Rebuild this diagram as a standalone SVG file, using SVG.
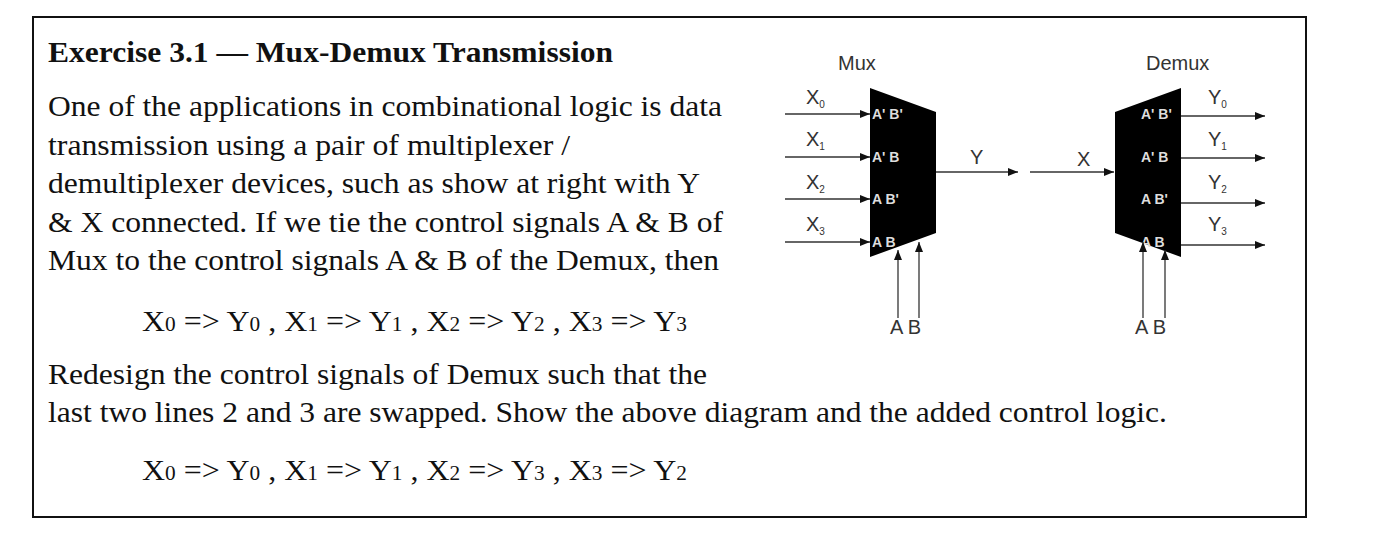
<svg xmlns="http://www.w3.org/2000/svg" width="1384" height="538" viewBox="0 0 1384 538">
<defs><marker id="ah" markerWidth="10" markerHeight="8" refX="10" refY="4" orient="auto" markerUnits="userSpaceOnUse"><path d="M0,0 L10,4 L0,8 Z" fill="#111"/></marker></defs>
<style>
.t{font-family:"Liberation Serif",serif;font-size:30px;fill:#111}
.s{font-family:"Liberation Sans",sans-serif;font-size:20px;fill:#333}
.w{font-family:"Liberation Sans",sans-serif;font-size:14px;font-weight:bold;fill:#ddd}
.sub{font-size:10px}
.l{stroke:#333;stroke-width:1.3;fill:none}
</style>
<rect x="0" y="0" width="1384" height="538" fill="#fff"/>
<rect x="33" y="17" width="1273" height="500" fill="none" stroke="#111" stroke-width="2"/>
<g id="text">
<text class="t" x="48" y="62" font-weight="bold" font-size="27" textLength="565" lengthAdjust="spacingAndGlyphs">Exercise 3.1 — Mux-Demux Transmission</text>
<text class="t" x="48" y="116" textLength="674" lengthAdjust="spacingAndGlyphs">One of the applications in combinational logic is data</text>
<text class="t" x="48" y="155" textLength="522" lengthAdjust="spacingAndGlyphs">transmission using a pair of multiplexer /</text>
<text class="t" x="48" y="193" textLength="652" lengthAdjust="spacingAndGlyphs">demultiplexer devices, such as show at right with Y</text>
<text class="t" x="48" y="232" textLength="675" lengthAdjust="spacingAndGlyphs">&amp; X connected. If we tie the control signals A &amp; B of</text>
<text class="t" x="48" y="270" textLength="671" lengthAdjust="spacingAndGlyphs">Mux to the control signals A &amp; B of the Demux, then</text>
<text class="t" x="142" y="331" textLength="545" lengthAdjust="spacingAndGlyphs">X<tspan font-size="20">0</tspan> =&gt; Y<tspan font-size="20">0</tspan> , X<tspan font-size="20">1</tspan> =&gt; Y<tspan font-size="20">1</tspan> , X<tspan font-size="20">2</tspan> =&gt; Y<tspan font-size="20">2</tspan> , X<tspan font-size="20">3</tspan> =&gt; Y<tspan font-size="20">3</tspan></text>
<text class="t" x="48" y="384" textLength="659" lengthAdjust="spacingAndGlyphs">Redesign the control signals of Demux such that the</text>
<text class="t" x="48" y="422" textLength="1119" lengthAdjust="spacingAndGlyphs">last two lines 2 and 3 are swapped. Show the above diagram and the added control logic.</text>
<text class="t" x="142" y="480" textLength="545" lengthAdjust="spacingAndGlyphs">X<tspan font-size="20">0</tspan> =&gt; Y<tspan font-size="20">0</tspan> , X<tspan font-size="20">1</tspan> =&gt; Y<tspan font-size="20">1</tspan> , X<tspan font-size="20">2</tspan> =&gt; Y<tspan font-size="20">3</tspan> , X<tspan font-size="20">3</tspan> =&gt; Y<tspan font-size="20">2</tspan></text>
</g>
<g id="mux">
<text class="s" x="838" y="70" font-size="18">Mux</text>
<path d="M870,88 L936,112 L936,233 L870,257 Z" fill="#000"/>
<text class="w" x="872" y="119">A' B'</text>
<text class="w" x="872" y="162">A' B</text>
<text class="w" x="872" y="204">A B'</text>
<text class="w" x="872" y="247">A B</text>
<text class="s" x="806" y="104">X<tspan class="sub" dy="4">0</tspan></text>
<text class="s" x="806" y="146">X<tspan class="sub" dy="4">1</tspan></text>
<text class="s" x="806" y="189">X<tspan class="sub" dy="4">2</tspan></text>
<text class="s" x="806" y="231">X<tspan class="sub" dy="4">3</tspan></text>
<text class="s" x="890" y="334">A B</text>
</g>
<g id="demux">
<text class="s" x="1146" y="70" font-size="18">Demux</text>
<path d="M1115,112 L1181,88 L1181,257 L1115,233 Z" fill="#000"/>
<text class="w" x="1141" y="119">A' B'</text>
<text class="w" x="1141" y="162">A' B</text>
<text class="w" x="1141" y="204">A B'</text>
<text class="w" x="1141" y="247">A B</text>
<text class="s" x="1208" y="104">Y<tspan class="sub" dy="4">0</tspan></text>
<text class="s" x="1208" y="146">Y<tspan class="sub" dy="4">1</tspan></text>
<text class="s" x="1208" y="189">Y<tspan class="sub" dy="4">2</tspan></text>
<text class="s" x="1208" y="231">Y<tspan class="sub" dy="4">3</tspan></text>
<text class="s" x="1135" y="334">A B</text>
</g>
<g id="connectors">
<line class="l" x1="785" y1="114" x2="870" y2="114" marker-end="url(#ah)"/>
<line class="l" x1="785" y1="157" x2="870" y2="157" marker-end="url(#ah)"/>
<line class="l" x1="785" y1="199" x2="870" y2="199" marker-end="url(#ah)"/>
<line class="l" x1="785" y1="242" x2="870" y2="242" marker-end="url(#ah)"/>
<line class="l" x1="898" y1="318" x2="898" y2="250" marker-end="url(#ah)"/>
<line class="l" x1="919" y1="318" x2="919" y2="242" marker-end="url(#ah)"/>
<line class="l" x1="936" y1="172" x2="1018" y2="172" marker-end="url(#ah)"/>
<text class="s" x="970" y="164">Y</text>
<line class="l" x1="1030" y1="172" x2="1114" y2="172" marker-end="url(#ah)"/>
<text class="s" x="1077" y="166">X</text>
<line class="l" x1="1181" y1="116" x2="1265" y2="116" marker-end="url(#ah)"/>
<line class="l" x1="1181" y1="158" x2="1265" y2="158" marker-end="url(#ah)"/>
<line class="l" x1="1181" y1="203" x2="1265" y2="203" marker-end="url(#ah)"/>
<line class="l" x1="1181" y1="245" x2="1265" y2="245" marker-end="url(#ah)"/>
<line class="l" x1="1143" y1="318" x2="1143" y2="242" marker-end="url(#ah)"/>
<line class="l" x1="1165" y1="318" x2="1165" y2="250" marker-end="url(#ah)"/>
</g>
</svg>
